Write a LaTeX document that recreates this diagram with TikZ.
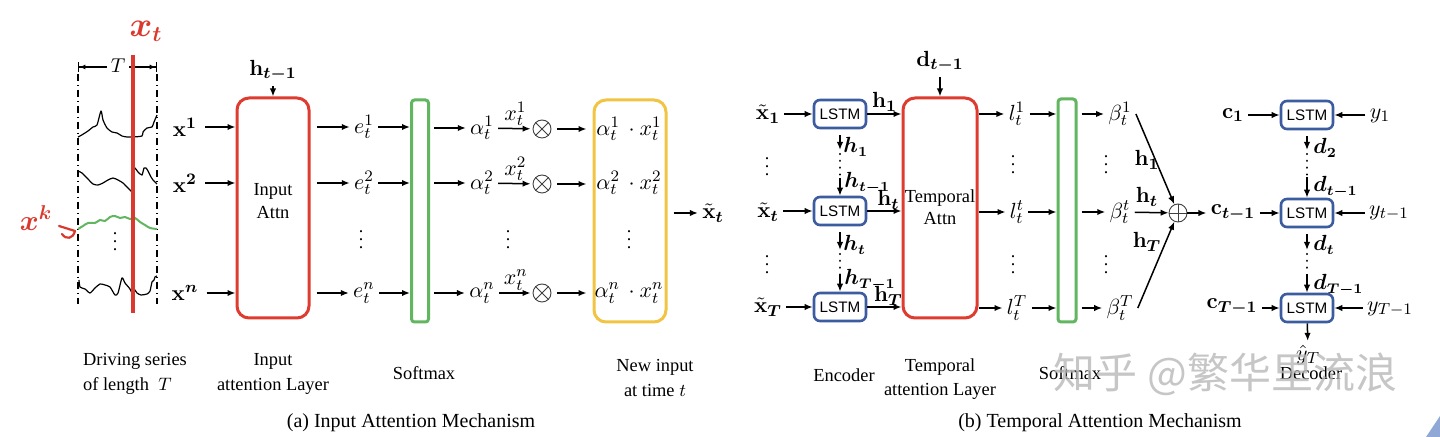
\documentclass[tikz,border=0pt]{standalone}
\usepackage[no-math]{fontspec}
\setmainfont{Liberation Serif}
\setsansfont{Liberation Sans}
\newfontfamily\cjkfont{Noto Sans CJK SC}
\usepackage{bm}
\usetikzlibrary{arrows.meta}
\definecolor{boxred}{HTML}{DE3C31}
\definecolor{barg}{HTML}{62B660}
\definecolor{yell}{HTML}{F2C443}
\definecolor{lblue}{HTML}{3B5C9E}
\definecolor{hand}{HTML}{DA3A2E}
\definecolor{wmgray}{HTML}{B8B8B8}
\definecolor{zhblue}{HTML}{8FA8D6}
\tikzset{
  arr/.style={-{Latex[length=4pt,width=3.2pt]}, line width=0.75pt},
  lab/.style={inner sep=2pt, font=\fontsize{11}{12}\selectfont},
  vlab/.style={anchor=west, inner sep=0pt, font=\fontsize{10.5}{12}\selectfont},
  dts/.style={inner sep=0pt, font=\fontsize{9}{10}\selectfont},
  txt/.style={inner sep=0pt, align=center, font=\fontsize{9.2}{12.2}\selectfont},
  captxt/.style={inner sep=0pt, font=\fontsize{10}{12}\selectfont},
  attnbox/.style={draw=boxred, line width=1.5pt, rounded corners=6pt, minimum height=110pt},
  smbar/.style={draw=barg, line width=1.5pt, rounded corners=1.5pt, minimum width=8.5pt, minimum height=111pt},
  lstm/.style={draw=lblue, line width=1.3pt, rounded corners=3pt, minimum width=26pt, minimum height=14pt, inner sep=0pt, font=\sffamily\fontsize{7.6}{8}\selectfont},
  opcirc/.style={circle, draw=black!75, line width=0.45pt, minimum size=9pt, inner sep=0pt},
  curve/.style={line width=0.6pt, line join=round},
  vdot/.style={dash pattern=on 0.01pt off 3.4pt, line width=1.2pt, line cap=round},
  dashdot/.style={dash pattern=on 3.6pt off 1.8pt on 0.8pt off 1.8pt, line width=0.7pt},
  handw/.style={text=hand, inner sep=0pt, font=\fontsize{16}{16}\selectfont},
}
\begin{document}
\begin{tikzpicture}[x=0.5pt,y=-0.5pt]
\fill[white] (0,0) rectangle (1440,437);
\useasboundingbox (0,0) rectangle (1440,437);

% ---------------- (a) driving series ----------------
\draw[dashdot] (78,74) -- (78,304);
\draw[dashdot] (157,74) -- (157,304);
\draw[{Bar[width=5pt]Latex[length=3pt,width=2.6pt]}-{Latex[length=3pt,width=2.6pt]Bar[width=5pt]}, line width=0.7pt] (78,67) -- (157,67);
\node[fill=white, inner sep=2pt, font=\fontsize{10}{10}\selectfont] (Tlab) at (118,66) {$T$};

\draw[curve] plot[smooth, tension=0.4] coordinates {(78,137) (80,136) (85,133) (88,131) (93,127) (97,125) (101,111) (103,120) (107,128) (112,132) (117,133) (122,136) (127,137) (133,137) (142,136) (143,132) (147,128) (152,127) (154,122) (157,115)};
\draw[curve] plot[smooth, tension=0.4] coordinates {(78,171) (82,173) (87,178) (93,184) (98,185) (103,183) (108,180) (113,178) (118,180) (123,183) (128,188) (132,192)};
\draw[curve] plot[smooth, tension=0.4] coordinates {(133,192) (133,170) (135,168) (138,172) (142,175) (144,168) (146,168) (148,171) (151,177) (153,180) (157,184)};
\draw[curve, draw=barg, line width=1pt] plot[smooth, tension=0.5] coordinates {(78,229) (83,226) (88,223) (95,223) (100,220) (105,221) (110,217) (115,216) (120,218) (125,217) (130,219) (135,218) (140,222) (145,225) (150,228) (157,229)};
\draw[curve] plot[smooth, tension=0.4] coordinates {(79,280) (80,287) (85,289) (90,293) (95,288) (100,284) (105,285) (110,287) (115,295) (118,293) (122,278) (125,283) (130,289) (133,295) (134,289) (137,293) (141,295) (147,294) (150,291) (152,282) (154,280) (155,277) (157,276)};
\node[dts] (kdots) at (115,236) {$\vdots$};

\draw[hand, line width=1.6pt] (133,55) -- (133,313);
\node[handw] (hxt) at (146,31) {$\bm{x_t}$};
\node[handw, font=\fontsize{14}{14}\selectfont] (hxk) at (36,218) {$\bm{x^k}$};
\draw[hand, line width=1.1pt, line cap=round, line join=round] (59,226) -- (75,231);
\draw[hand, line width=1.1pt, line cap=round, line join=round] (62,234) .. controls (66,240) and (73,239) .. (75,231);

\node[lab] (x1) at (185,127) {$\mathbf{x}^{\mathbf{1}}$};
\node[lab] (x2) at (185,183) {$\mathbf{x}^{\mathbf{2}}$};
\node[lab] (xn) at (185,293) {$\mathbf{x}^{\bm{n}}$};

% input attention
\node[attnbox, minimum width=36pt] (ia) at (273,208) {};
\node[txt, font=\fontsize{9.2}{11.5}\selectfont] (iat) at (273,201) {Input\\Attn};
\node[lab] (hprev) at (273,71) {$\mathbf{h}_{\bm{t-1}}$};
\draw[arr] (hprev) -- (ia);
\foreach \n in {x1,x2,xn} \draw[arr, shorten <=2pt] (\n) -- (\n -| ia.west);

\node[lab] (e1) at (364,127) {$e_t^1$};
\node[lab] (e2) at (364,183) {$e_t^2$};
\node[lab] (en) at (364,293) {$e_t^n$};
\node[dts] (edots) at (361,234) {$\vdots$};

\node[smbar] (sm1) at (420,211) {};
\foreach \n in {e1,e2,en} {
  \draw[arr, shorten <=3pt] (ia.east |- \n) -- (\n);
  \draw[arr] (\n) -- (\n -| sm1.west);
}

\node[lab] (a1) at (482,128) {$\alpha_t^1$};
\node[lab] (a2) at (482,183) {$\alpha_t^2$};
\node[lab] (an) at (482,293) {$\alpha_t^n$};
\node[dts] (adots) at (508,234) {$\vdots$};
\node[opcirc] (m1) at (542,129) {};
\node[opcirc] (m2) at (542,184) {};
\node[opcirc] (mn) at (542,293) {};
\foreach \m in {m1,m2,mn} {
  \draw[black!75, line width=0.45pt] (\m.north west) -- (\m.south east);
  \draw[black!75, line width=0.45pt] (\m.north east) -- (\m.south west);
}
\node[draw=yell, line width=1.5pt, rounded corners=6pt, minimum width=36pt, minimum height=111pt] (yb) at (630,211) {};
\node[lab] (p1) at (629,129) {$\alpha_t^1\,\cdot x_t^1$};
\node[lab] (p2) at (629,183) {$\alpha_t^2\,\cdot x_t^2$};
\node[lab] (pn) at (629,293) {$\alpha_t^n\,\cdot x_t^n$};
\node[dts] (pdots) at (629,234) {$\vdots$};

\draw[arr, shorten <=2pt] (sm1.east |- a1) -- (a1);
\draw[arr, shorten <=2pt] (sm1.east |- a2) -- (a2);
\draw[arr, shorten <=2pt] (sm1.east |- an) -- (an);
\draw[arr, shorten >=1pt] (a1) -- node[lab, above, inner sep=1pt] (xa1) {$x_t^1$} (m1);
\draw[arr, shorten >=1pt] (a2) -- node[lab, above, inner sep=1pt] (xa2) {$x_t^2$} (m2);
\draw[arr, shorten >=1pt] (an) -- node[lab, above, inner sep=1pt] (xan) {$x_t^n$} (mn);
\draw[arr, shorten <=3pt, shorten >=3pt] (m1) -- (m1 -| yb.west);
\draw[arr, shorten <=3pt, shorten >=3pt] (m2) -- (m2 -| yb.west);
\draw[arr, shorten <=3pt, shorten >=3pt] (mn) -- (mn -| yb.west);

\node[lab] (xtil) at (713,213) {$\tilde{\mathbf{x}}_{\bm t}$};
\draw[arr, shorten <=3pt] (yb.east |- xtil) -- (xtil);

% labels (a)
\node[txt, align=left] (l1) at (135,374) {Driving series\\of length \ $T$};
\node[txt] (l2) at (273,374) {Input\\attention Layer};
\node[txt] (l3) at (424,373) {Softmax};
\node[txt] (l4) at (655,378) {New input\\at time $t$};
\node[captxt] (capa) at (411,423) {(a) Input Attention Mechanism};

% ---------------- (b) temporal attention ----------------
\node[lab] (xe1) at (768,114) {$\tilde{\mathbf{x}}_{\mathbf{1}}$};
\node[lab] (xe2) at (768,212) {$\tilde{\mathbf{x}}_{\bm t}$};
\node[lab] (xe3) at (768,307) {$\tilde{\mathbf{x}}_{\bm T}$};
\node[dts] (xd1) at (767,161) {$\vdots$};
\node[dts] (xd2) at (767,259) {$\vdots$};
\node[lstm] (L1) at (840,114) {LSTM};
\node[lstm] (L2) at (840,211) {LSTM};
\node[lstm] (L3) at (840,307) {LSTM};
\draw[arr] (xe1) -- (L1);
\draw[arr] (xe2.east |- L2) -- (L2);
\draw[arr] (xe3) -- (L3);

\node[attnbox, minimum width=37pt] (ta) at (940,208) {};
\node[txt, font=\fontsize{9.2}{11}\selectfont] (tat) at (940,207) {Temporal\\Attn};
\node[lab] (dprev) at (940,62) {$\mathbf{d}_{\bm{t-1}}$};
\draw[arr] (dprev) -- (ta);

\draw[arr] (L1) -- node[lab, above, inner sep=1pt] (hh1) {$\mathbf{h}_{\mathbf{1}}$} (L1 -| ta.west);
\draw[arr] (L2) -- node[lab, above, inner sep=0.5pt, xshift=2pt] (hh2) {$\mathbf{h}_{\bm{t}}$} (L2 -| ta.west);
\draw[arr] (L3) -- node[lab, above, inner sep=0.5pt, xshift=2pt] (hh3) {$\mathbf{h}_{\bm{T}}$} (L3 -| ta.west);

\coordinate (v1a) at (840,150);
\coordinate (v1b) at (840,178);
\coordinate (v2a) at (840,250);
\coordinate (v2b) at (840,275);
\draw[arr, shorten <=3pt] (L1) -- (v1a);
\draw[vdot] (v1a) ++(0,4) -- (v1b);
\draw[arr] (v1b) -- (L2);
\draw[arr, shorten <=3pt] (L2) -- (v2a);
\draw[vdot] (v2a) ++(0,4) -- (v2b);
\draw[arr] (v2b) -- (L3);
\node[vlab] (hv1) at (843,147) {$\bm{h}_{\bm{1}}$};
\node[vlab] (hv2) at (844,183) {$\bm{h}_{\bm{t-1}}$};
\node[vlab] (hv3) at (843,245) {$\bm{h}_{\bm{t}}$};
\node[vlab] (hv4) at (844,280) {$\bm{h}_{\bm{T-1}}$};

\node[lab] (lt1) at (1017,114) {$l_t^1$};
\node[lab] (lt2) at (1017,212) {$l_t^t$};
\node[lab] (lt3) at (1017,308) {$l_t^T$};
\node[dts] (ld1) at (1013,159) {$\vdots$};
\node[dts] (ld2) at (1013,259) {$\vdots$};
\node[smbar, minimum width=9pt, minimum height=111.5pt] (sm2) at (1067,210.5) {};
\node[lab] (b1) at (1120,114) {$\beta_t^1$};
\node[lab] (b2) at (1120,212) {$\beta_t^t$};
\node[lab] (b3) at (1120,308) {$\beta_t^T$};
\node[dts] (bd1) at (1106,159) {$\vdots$};
\node[dts] (bd2) at (1106,259) {$\vdots$};
\foreach \n in {lt1,lt2,lt3} {
  \draw[arr] (ta.east |- \n) -- (\n);
  \draw[arr] (\n) -- (\n -| sm2.west);
}
\foreach \n in {b1,b2,b3} \draw[arr, shorten <=2pt] (sm2.east |- \n) -- (\n);

\node[opcirc] (plus) at (1178,213) {};
\draw[black!75, line width=0.45pt] (plus.north) -- (plus.south);
\draw[black!75, line width=0.45pt] (plus.west) -- (plus.east);
\draw[arr] (b1.east) -- (plus);
\draw[arr] (b2) -- (plus);
\draw[arr] (b3.east) -- (plus);
\node[lab] (hb1) at (1147,160) {$\mathbf{h}_{\mathbf{1}}$};
\node[lab] (hb2) at (1147,197) {$\mathbf{h}_{\bm{t}}$};
\node[lab] (hb3) at (1147,242) {$\mathbf{h}_{\bm{T}}$};

\node[lab] (ct) at (1233,213) {$\mathbf{c}_{\bm{t-1}}$};
\node[lab] (c1) at (1233,115) {$\mathbf{c}_{\mathbf{1}}$};
\node[lab] (cT) at (1232,307) {$\mathbf{c}_{\bm{T-1}}$};
\node[lstm] (D1) at (1307,115) {LSTM};
\node[lstm] (D2) at (1307,213) {LSTM};
\node[lstm] (D3) at (1307,308) {LSTM};
\draw[arr] (plus) -- (ct);
\draw[arr] (ct) -- (D2);
\draw[arr] (c1.east |- D1) -- (D1);
\draw[arr] (cT.east |- D3) -- (D3);
\node[lab] (y1) at (1380,116) {$y_1$};
\node[lab] (y2) at (1389,213) {$y_{t-1}$};
\node[lab] (y3) at (1390,309) {$y_{T-1}$};
\draw[arr] (y1.west |- D1) -- (D1);
\draw[arr] (y2.west |- D2) -- (D2);
\draw[arr] (y3.west |- D3) -- (D3);

\coordinate (w1a) at (1307,150);
\coordinate (w1b) at (1307,177);
\coordinate (w2a) at (1307,250);
\coordinate (w2b) at (1307,274);
\draw[arr, shorten <=3pt] (D1) -- (w1a);
\draw[vdot] (w1a) ++(0,4) -- (w1b);
\draw[arr] (w1b) -- (D2);
\draw[arr, shorten <=3pt] (D2) -- (w2a);
\draw[vdot] (w2a) ++(0,4) -- (w2b);
\draw[arr] (w2b) -- (D3);
\node[vlab] (dv1) at (1313,148) {$\bm{d}_{\bm{2}}$};
\node[vlab] (dv2) at (1313,187) {$\bm{d}_{\bm{t-1}}$};
\node[vlab] (dv3) at (1313,245) {$\bm{d}_{\bm{t}}$};
\node[vlab] (dv4) at (1313,285) {$\bm{d}_{\bm{T-1}}$};
\node[lab] (yhat) at (1308,355) {$\hat{y}_T$};
\draw[arr] (D3) -- (yhat);

% labels (b)
\node[txt] (enc) at (844,375) {Encoder};
\node[txt] (tal) at (940,379) {Temporal\\attention Layer};
\node[txt] (sml) at (1070,373) {Softmax};
\node[txt] (dec) at (1311,373) {Decoder};
\node[captxt] (capb) at (1100,423) {(b) Temporal Attention Mechanism};

% watermark
\node[anchor=west, inner sep=0pt, text=wmgray, opacity=0.8, font=\cjkfont\fontsize{21}{21}\selectfont] (wm) at (1053,374) {知乎\hspace{5pt}@繁华里流浪};
\fill[zhblue] (1426,437) -- (1440,416) -- (1440,437) -- cycle;
\end{tikzpicture}
\end{document}
